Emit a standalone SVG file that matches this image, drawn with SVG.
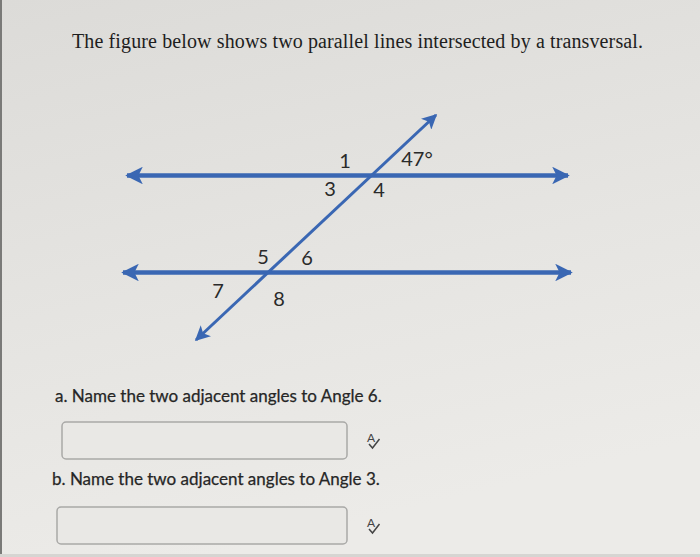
<svg xmlns="http://www.w3.org/2000/svg" width="700" height="557" viewBox="0 0 700 557">
<defs>
<linearGradient id="bg" x1="0" y1="0" x2="0.3" y2="1">
<stop offset="0" stop-color="#dcdbd8"/>
<stop offset="0.6" stop-color="#e6e5e2"/>
<stop offset="1" stop-color="#ecebe8"/>
</linearGradient>
<marker id="ah" viewBox="0 0 10 10" refX="9" refY="5" markerWidth="4.6" markerHeight="3.9" orient="auto-start-reverse" markerUnits="strokeWidth">
<path d="M0,0 L10,5 L0,10 L2.5,5 Z" fill="#3a67b3"/>
</marker>
<marker id="ah2" viewBox="0 0 10 10" refX="9" refY="5" markerWidth="6" markerHeight="5" orient="auto-start-reverse" markerUnits="strokeWidth">
<path d="M0,0 L10,5 L0,10 L2.5,5 Z" fill="#3a67b3"/>
</marker>
</defs>
<style>
.ser{font-family:"Liberation Serif","Times New Roman",serif;fill:#1e1e1e}
.lbl{font-family:"Lato","Liberation Sans",sans-serif;fill:#2a2a2a;font-size:20px;text-anchor:middle}
.q{font-family:"Lato","Liberation Sans",sans-serif;fill:#262626;font-size:17px;stroke:#262626;stroke-width:0.25}
.ln{stroke:#3a67b3;fill:none}
.box{fill:#e9e8e5;stroke:#a9a9a7;stroke-width:1.5}
.ic{font-family:"Lato","Liberation Sans",sans-serif;font-size:12px;fill:#444}
</style>
<rect width="700" height="557" fill="url(#bg)"/>
<rect x="0" y="0" width="2" height="557" fill="#7a7a78"/>
<rect x="0" y="554" width="700" height="3" fill="#d6d5d2"/>

<g id="title"><text class="ser" x="72" y="48" font-size="20" textLength="571">The figure below shows two parallel lines intersected by a transversal.</text></g>

<g id="connectors">
<line id="line-top" class="ln" x1="127" y1="175.5" x2="568" y2="175.5" stroke-width="4.5" marker-start="url(#ah)" marker-end="url(#ah)"/>
<line id="line-bottom" class="ln" x1="123" y1="272.5" x2="571" y2="272.5" stroke-width="4.5" marker-start="url(#ah)" marker-end="url(#ah)"/>
<line id="transversal" class="ln" x1="196" y1="340" x2="436" y2="115" stroke-width="3" marker-start="url(#ah2)" marker-end="url(#ah2)"/>
</g>

<g id="labels">
<text class="lbl" x="345" y="168">1</text>
<text class="lbl" x="417" y="166">47°</text>
<text class="lbl" x="330" y="196">3</text>
<text class="lbl" x="379" y="197">4</text>
<text class="lbl" x="263" y="264">5</text>
<text class="lbl" x="307" y="265">6</text>
<text class="lbl" x="218" y="298">7</text>
<text class="lbl" x="279" y="306">8</text>
</g>

<g id="question-a">
<text class="q" x="55" y="402">a. Name the two adjacent angles to Angle 6.</text>
<rect class="box" x="62" y="422" width="285" height="37" rx="4"/>
<g id="icon-a"><text class="ic" x="367" y="442">A</text><path d="M369,444 l3.5,4 l7,-9" stroke="#444" stroke-width="1.5" fill="none"/></g>
</g>

<g id="question-b">
<text class="q" x="52" y="485">b. Name the two adjacent angles to Angle 3.</text>
<rect class="box" x="57" y="507" width="290" height="37" rx="4"/>
<g id="icon-b"><text class="ic" x="367" y="527">A</text><path d="M369,529 l3.5,4 l7,-9" stroke="#444" stroke-width="1.5" fill="none"/></g>
</g>
</svg>
